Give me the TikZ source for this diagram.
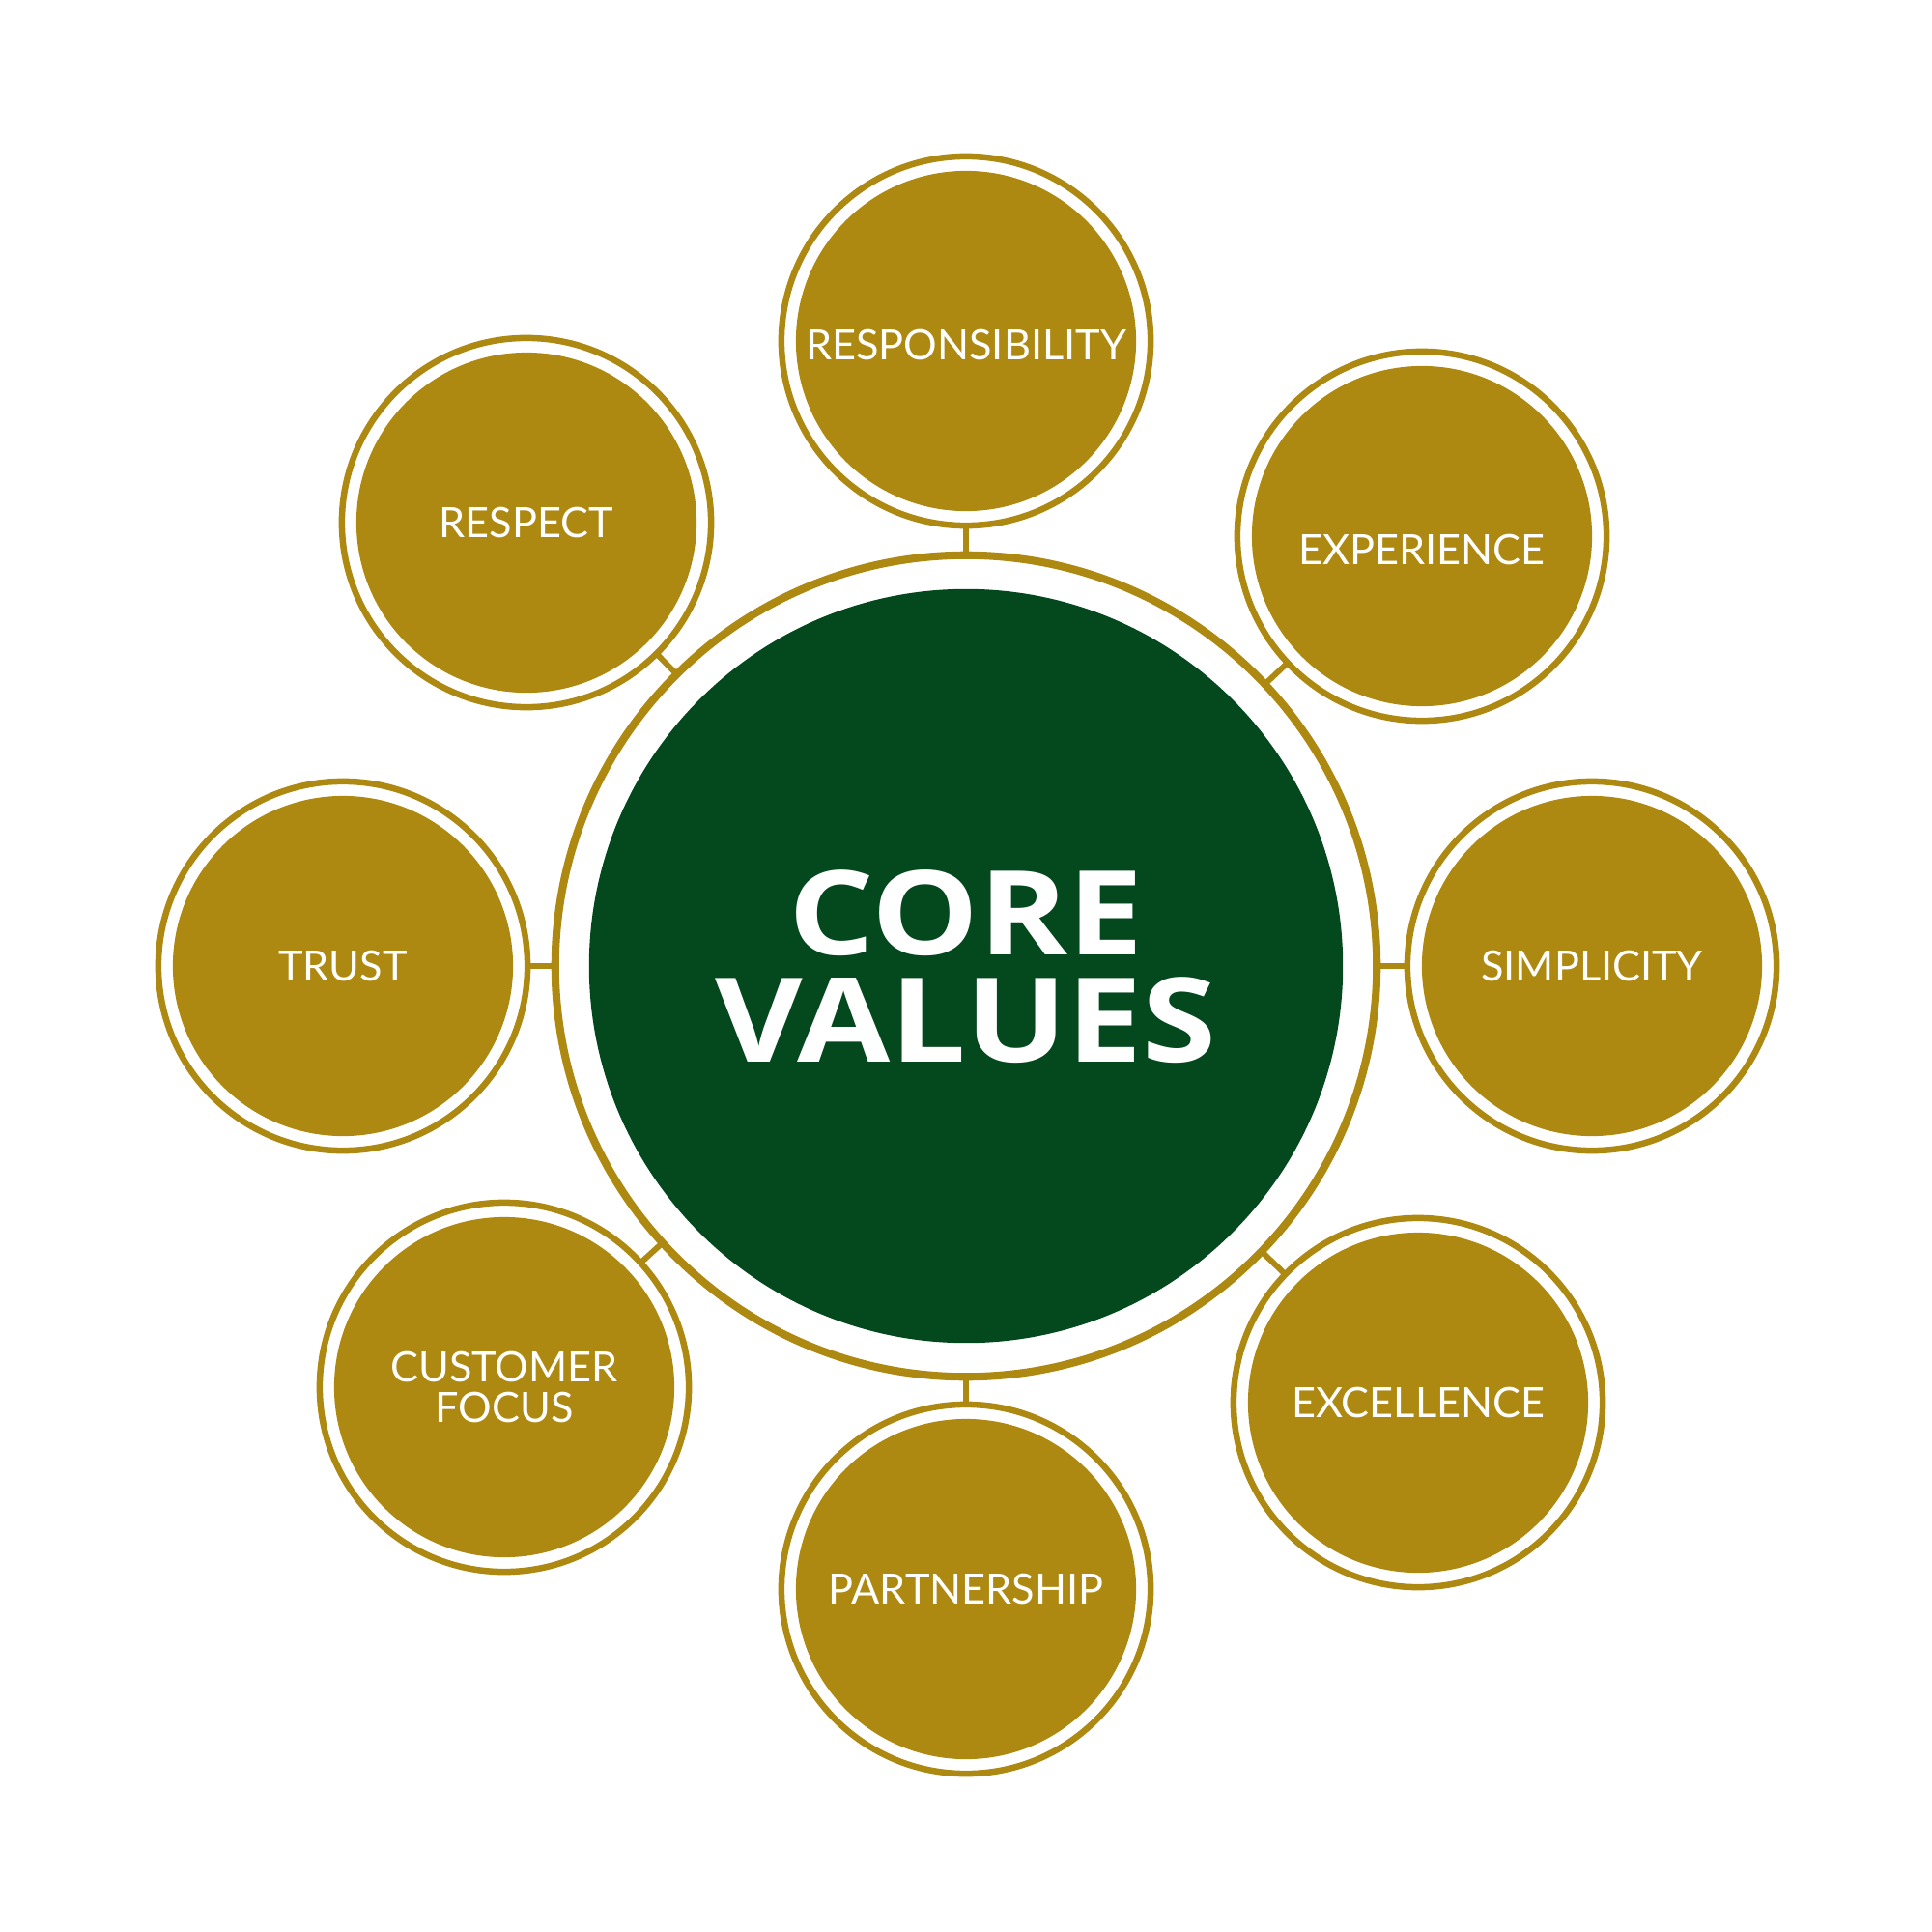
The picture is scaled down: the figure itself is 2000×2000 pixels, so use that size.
\documentclass[tikz,border=0pt]{standalone}
\usepackage{fontspec}
\setmainfont{Lato}
\newfontfamily\heavyfont{Open Sans}[FakeStretch=1.15]
\definecolor{gold}{RGB}{174,137,18}
\definecolor{deepgreen}{RGB}{3,73,29}
\begin{document}
\begin{tikzpicture}[x=0.01cm,y=-0.01cm,
  satring/.style={circle,draw=gold,line width=1.85pt,minimum size=3.82cm,inner sep=0pt,outer sep=0pt},
  satfill/.style={circle,fill=gold,minimum size=3.52cm,inner sep=0pt,outer sep=0pt},
  satlabel/.style={text=white,font=\fontsize{12.3}{11.7}\selectfont,align=center,inner sep=0pt},
  conn/.style={draw=gold,line width=1.7pt}]
\useasboundingbox (0,0) rectangle (2000,2000);
% centre
\node[circle,draw=gold,line width=2.3pt,minimum size=8.5cm,inner sep=0pt,outer sep=0pt] (ring) at (1000,1000) {};
\node[circle,fill=deepgreen,minimum size=7.8cm,inner sep=0pt] (core) at (1000,1000) {};
\node[text=white,font=\heavyfont\bfseries\fontsize{34.5}{31.6}\selectfont,align=center,inner sep=0pt] (coretext) at (1000,1001) {CORE\\VALUES};
% satellites
\foreach \n/\x/\y in {s1/1000/353, s2/1472/555, s3/1648/1000, s4/1468/1452, s5/1000/1645, s6/522/1436, s7/355/1000, s8/545/541}{
  \node[satfill] (\n f) at (\x,\y) {};
  \node[satring] (\n) at (\x,\y) {};
  \draw[conn] (ring) -- (\n);
}
\node[satlabel] (l1) at ([yshift=-0.04cm]s1) {RESPONSIBILITY};
\node[satlabel] (l2) at ([yshift=-0.14cm]s2) {EXPERIENCE};
\node[satlabel] (l3) at (s3) {SIMPLICITY};
\node[satlabel] (l4) at (s4) {EXCELLENCE};
\node[satlabel] (l5) at (s5) {PARTNERSHIP};
\node[satlabel] (l6) at (s6) {CUSTOMER\\FOCUS};
\node[satlabel] (l7) at (s7) {TRUST};
\node[satlabel] (l8) at (s8) {RESPECT};
\end{tikzpicture}
\end{document}
